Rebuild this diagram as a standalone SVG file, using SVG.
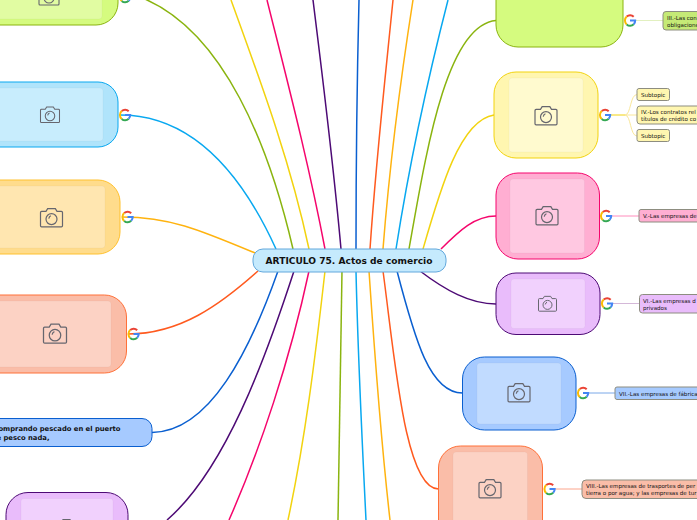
<svg xmlns="http://www.w3.org/2000/svg" xmlns:xlink="http://www.w3.org/1999/xlink" width="697" height="520" viewBox="0 0 697 520">
<style>
text{font-family:"DejaVu Sans",Verdana,sans-serif;fill:#111}
.c{fill:none;stroke-width:1.500}
.s{fill:none;stroke-width:1}
.sub{font-size:5.55px}
.t{stroke-width:1;stroke:#8d8d80}
.in{stroke:#000;stroke-opacity:.05;stroke-width:.6}
.n{stroke-width:1}
</style>
<defs>
<g id="g">
<path d="M3.7-3.7A5.2 5.2 0 0 0-3.3-3.9" fill="none" stroke="#ea4335" stroke-width="2"/>
<path d="M-3.3-3.9A5.2 5.2 0 0 0-3.3 3.9" fill="none" stroke="#fbbc05" stroke-width="2"/>
<path d="M-3.3 3.9A5.2 5.2 0 0 0 3.7 3.7" fill="none" stroke="#34a853" stroke-width="2"/>
<path d="M3.7 3.7A5.2 5.2 0 0 0 5.2 0H0" fill="none" stroke="#4285f4" stroke-width="2"/>
</g>
<g id="cam" fill="none" stroke="#66666e" stroke-width="1.100">
<path d="M-9-6H-5L-3.500-8.500H3.500L5-6H9Q10-6 10-5V7Q10 8 9 8H-9Q-10 8-10 7V-5Q-10-6-9-6Z"/>
<circle cx="0" cy="1" r="5"/>
<path d="M-2.500 0.500Q-2 -1.500 -0.500 -2"/>
</g>
</defs>
<g id="connectors">
<path class="c" stroke="#8ab40f" d="M293 249C270 150 225 30 140-3"/>
<path class="c" stroke="#f2d30f" d="M309 249C290 160 260 80 231 0"/>
<path class="c" stroke="#f5056c" d="M325 249C308 160 287 80 267 0"/>
<path class="c" stroke="#4d0a75" d="M341 249C333 160 323 80 313 0"/>
<path class="c" stroke="#08a8f0" d="M276 249C240 170 190 115 120 115"/>
<path class="c" stroke="#ffb30f" d="M255 253C200 230 170 217 122 217"/>
<path class="c" stroke="#ff5a1f" d="M258 271C220 305 180 334 128 334"/>
<path class="c" stroke="#0a5fd0" d="M278 271C250 350 210 432 152 432.500"/>
<path class="c" stroke="#4d0a75" d="M294 271C265 360 225 470 167 520"/>
<path class="c" stroke="#f5056c" d="M309 271C290 360 260 450 229 520"/>
<path class="c" stroke="#f2d30f" d="M325 271C315 360 305 440 288 520"/>
<path class="c" stroke="#8ab40f" d="M342 271C341 360 339 440 338 520"/>
<path class="c" stroke="#0a5fd0" d="M356 249C356 160 357 80 359 0"/>
<path class="c" stroke="#ff5a1f" d="M370 249C376 160 385 80 393 0"/>
<path class="c" stroke="#ffb30f" d="M383 249C390 160 402 70 413 0"/>
<path class="c" stroke="#08a8f0" d="M396 249C410 160 430 70 448 0"/>
<path class="c" stroke="#8ab40f" d="M409 249C425 160 445 25 496 20.500"/>
<path class="c" stroke="#f2d30f" d="M423 249C440 190 460 120 494 115"/>
<path class="c" stroke="#f5056c" d="M441 249C460 230 475 216 496 216"/>
<path class="c" stroke="#4d0a75" d="M420 271C445 290 470 304 496 304"/>
<path class="c" stroke="#0a5fd0" d="M397 271C415 340 430 393 462.500 393"/>
<path class="c" stroke="#ff5a1f" d="M383 271C395 360 405 489 438.500 489"/>
<path class="c" stroke="#ffb30f" d="M369 271C375 360 382 450 390 520"/>
<path class="c" stroke="#08a8f0" d="M356 271C358 360 362 440 366 520"/>
<path class="s" stroke="#e2f0c0" stroke-width="1.500" d="M636 20.500H663"/>
<path class="s" stroke="#f2d30f" d="M610 115H625"/>
<path class="s" stroke="#f9e79a" d="M625 115C631 115 630 94.500 637 94.500M625 115H637M625 115C631 115 630 136 637 136"/>
<path class="s" stroke="#ff8cbc" d="M611 216H639"/>
<path class="s" stroke="#d4b8d8" stroke-width="1.300" d="M612 303.500H640"/>
<path class="s" stroke="#7ba8e8" d="M588 393H615"/>
<path class="s" stroke="#fca58c" d="M555 489H582"/>
</g>
<g id="center"><rect x="253" y="249" width="193" height="23" rx="10" fill="#c5eafd" stroke="#62a8dc"/><text x="349" y="264" text-anchor="middle" font-size="9.100" font-weight="bold">ARTICULO 75. Actos de comercio</text></g>
<g id="n-green-left"><rect class="n" x="-60" y="-60" width="178" height="85" rx="22" fill="#d5fb7f" stroke="#8ab40f"/><rect class="in" x="-40" y="-50" width="142" height="69" rx="3" fill="#e1fca2"/><use xlink:href="#cam" href="#cam" x="49" y="-3"/><use xlink:href="#g" href="#g" x="125" y="-3"/></g>
<g id="n-blue-left"><rect class="n" x="-60" y="82" width="178" height="65" rx="20" fill="#b0e4fb" stroke="#08a8f0"/><rect class="in" x="-40" y="88" width="143" height="53" rx="3" fill="#c8edfd"/><use xlink:href="#cam" href="#cam" transform="translate(50 115) scale(.95)"/><use xlink:href="#g" href="#g" x="125" y="115"/></g>
<g id="n-orange-left"><rect class="n" x="-60" y="180" width="180" height="74" rx="22" fill="#ffdc8c" stroke="#ffc12e"/><rect class="in" x="-40" y="186" width="145" height="62" rx="3" fill="#ffe6b0"/><use xlink:href="#cam" href="#cam" transform="translate(51.500 218) scale(1.100)"/><use xlink:href="#g" href="#g" x="127.500" y="217"/></g>
<g id="n-coral-left"><rect class="n" x="-60" y="295" width="186.500" height="78" rx="22" fill="#fabda8" stroke="#ff7038"/><rect class="in" x="-40" y="301" width="151" height="66" rx="3" fill="#fcd2c4"/><use xlink:href="#cam" href="#cam" transform="translate(55 334) scale(1.150)"/><use xlink:href="#g" href="#g" x="133.500" y="334"/></g>
<g id="n-blue-text"><rect class="n" x="-60" y="418.500" width="212" height="28" rx="10" fill="#a6caff" stroke="#0a5fd0"/><text x="120.500" y="431" text-anchor="end" font-size="6.800" font-weight="bold">comprando pescado en el puerto</text><text x="49.500" y="440" text-anchor="end" font-size="6.800" font-weight="bold">e pesco nada,</text></g>
<g id="n-purple-left"><rect class="n" x="6" y="492.500" width="122" height="90" rx="22" fill="#e9bcfb" stroke="#4d0a75"/><rect class="in" x="21" y="498.500" width="92" height="70" rx="3" fill="#f1d1fd"/><use xlink:href="#cam" href="#cam" x="66.500" y="528"/></g>
<g id="n-green-right"><rect class="n" x="496" y="-40" width="127" height="87" rx="22" fill="#d5fb7f" stroke="#8ab40f"/><use xlink:href="#g" href="#g" x="630" y="20.500"/><rect class="t" x="663" y="11.500" width="60" height="18.500" rx="3" fill="#c5ea76"/><text class="sub" x="667" y="20">III.-Las con</text><text class="sub" x="667" y="26.500">obligacione</text></g>
<g id="n-yellow-right"><rect class="n" x="494" y="72" width="104" height="86" rx="22" fill="#fff6b0" stroke="#f2d30f"/><rect class="in" x="509" y="78" width="74" height="74" rx="3" fill="#fffacf"/><use xlink:href="#cam" href="#cam" transform="translate(546 116) scale(1.100)"/><use xlink:href="#g" href="#g" x="605" y="115"/>
<rect class="t" x="637" y="88.500" width="32.500" height="12" rx="2" fill="#fff6b0"/><text class="sub" x="641" y="97">Subtopic</text>
<rect class="t" x="637" y="106" width="80" height="18" rx="3" fill="#fff6b0"/><text class="sub" x="641" y="114">IV.-Los contratos rel</text><text class="sub" x="641" y="121">títulos de crédito co</text>
<rect class="t" x="637" y="129.500" width="32.500" height="12" rx="2" fill="#fff6b0"/><text class="sub" x="641" y="138">Subtopic</text></g>
<g id="n-pink-right"><rect class="n" x="496" y="173" width="103.500" height="86" rx="22" fill="#ffaed2" stroke="#f5056c"/><rect class="in" x="510" y="179" width="74.500" height="74" rx="3" fill="#ffc8e1"/><use xlink:href="#cam" href="#cam" transform="translate(547 216) scale(1.100)"/><use xlink:href="#g" href="#g" x="606" y="216"/><rect class="t" x="639" y="209.500" width="80" height="12.500" rx="2" fill="#ffaed2"/><text class="sub" x="643" y="218">V.-Las empresas de</text></g>
<g id="n-purple-right"><rect class="n" x="496" y="273" width="104" height="61.500" rx="20" fill="#e9bcfb" stroke="#4d0a75"/><rect class="in" x="511" y="279" width="74" height="49.500" rx="3" fill="#f1d1fd"/><use xlink:href="#cam" href="#cam" transform="translate(547.500 304) scale(.9)"/><use xlink:href="#g" href="#g" x="607" y="303.500"/><rect class="t" x="639.500" y="294.500" width="80" height="18.500" rx="3" fill="#e9bcfb"/><text class="sub" x="643" y="303">VI.-Las empresas d</text><text class="sub" x="643" y="309.500">privados</text></g>
<g id="n-blue-right"><rect class="n" x="462.500" y="357" width="113.500" height="73" rx="22" fill="#a6caff" stroke="#0a5fd0"/><rect class="in" x="477" y="363" width="84" height="61" rx="3" fill="#c1dbff"/><use xlink:href="#cam" href="#cam" transform="translate(519 393) scale(1.100)"/><use xlink:href="#g" href="#g" x="583" y="393"/><rect class="t" x="615" y="387" width="90" height="12.500" rx="2" fill="#a6caff"/><text class="sub" x="619" y="395.500">VII.-Las empresas de fábrica</text></g>
<g id="n-coral-right"><rect class="n" x="438.500" y="446" width="104" height="100" rx="22" fill="#fabda8" stroke="#ff7038"/><rect class="in" x="453" y="452" width="74.500" height="80" rx="3" fill="#fcd2c4"/><use xlink:href="#cam" href="#cam" transform="translate(490 489) scale(1.100)"/><use xlink:href="#g" href="#g" x="549.500" y="489"/><rect class="t" x="582" y="480" width="130" height="18.500" rx="4" fill="#fabda8"/><text class="sub" x="586" y="488">VIII.-Las empresas de trasportes de per</text><text class="sub" x="586" y="495">tierra o por agua; y las empresas de tur</text></g>
</svg>
